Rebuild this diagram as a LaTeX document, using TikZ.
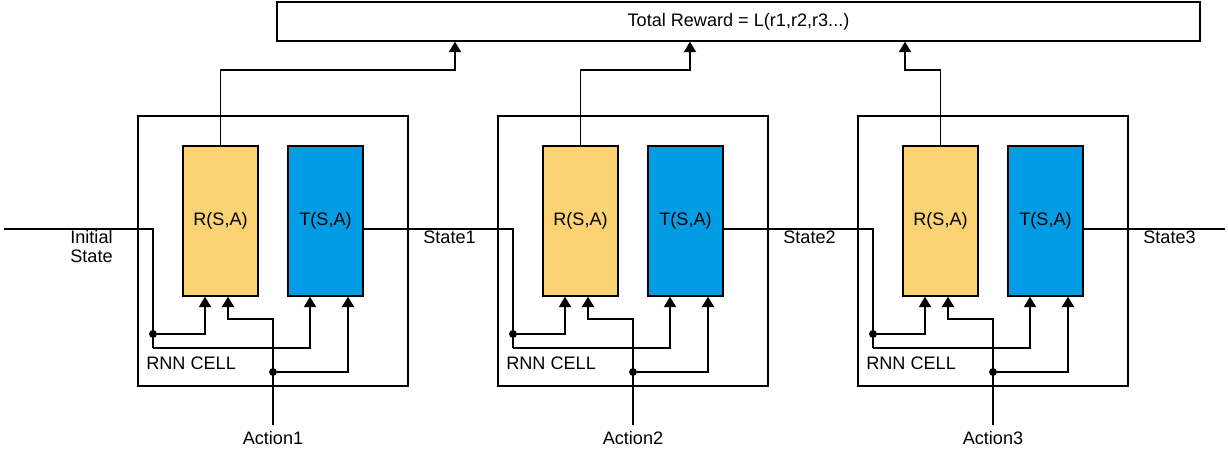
\documentclass[tikz,border=0pt]{standalone}
\usepackage{fontspec}
\setmainfont{Liberation Sans}
\usetikzlibrary{arrows.meta,calc}
\definecolor{rcol}{HTML}{FCD374}
\definecolor{tcol}{HTML}{019CE4}
\begin{document}
\begin{tikzpicture}[x=0.02cm,y=-0.02cm,
    font=\fontsize{10.3}{12}\selectfont,
    wire/.style={line width=0.8pt},
    arr/.style={wire,-{Triangle[width=7pt,length=6pt]}},
    cell/.style={draw,line width=0.8pt,minimum width=5.4cm,minimum height=5.4cm,inner sep=0pt},
    func/.style={draw,line width=0.8pt,minimum width=1.5cm,minimum height=3cm,inner sep=0pt},
    dot/.style={circle,fill,inner sep=0pt,minimum size=4.5pt}]
  \useasboundingbox (0,0) rectangle (1228,450);
  \node[draw,line width=0.8pt,minimum width=18.46cm,minimum height=0.78cm] (reward) at (738.5,21.5) {Total Reward = L(r1,r2,r3...)};
  \coordinate (prev0) at (4,229);
  \node[align=left,anchor=north west,inner sep=0pt] (initlab) at (70,230) {Initial\\[-1pt]State};
  \foreach \i/\o/\j in {1/0/0,2/360/1,3/720/2}{
    \node[cell] (C\i) at (273+\o,251) {};
    \node[func,fill=rcol] (R\i) at (220.5+\o,221) {R(S,A)};
    \node[func,fill=tcol] (T\i) at (325.5+\o,221) {T(S,A)};
    \node[anchor=west,inner sep=0pt] (rnn\i) at (146+\o,363) {RNN CELL};
    \node[anchor=north,inner sep=0pt] (a\i) at (273+\o,431) {Action\i};
    \node[anchor=west,inner sep=0pt] (s\i) at (423+\o,237) {State\i};
    \coordinate (in\i) at (153+\o,229);
    \node[dot] (d\i) at (153+\o,334) {};
    \node[dot] (e\i) at (273+\o,372) {};
    \coordinate (act\i) at (273+\o,425);
    \coordinate (prev\i) at ($(T\i.east)+(0,8)$);
    \draw[wire] (prev\j) -- (in\i) -- (153+\o,348) coordinate (m\i);
    \draw[arr] (m\i) -| ($(T\i.south)+(-15.5,0)$);
    \draw[arr] (d\i) -| ($(R\i.south)+(-15.5,0)$);
    \draw[arr] (act\i) -- (273+\o,319) -| ($(R\i.south)+(7.5,0)$);
    \draw[arr] (e\i) -| ($(T\i.south)+(22.5,0)$);
  }
  \draw[wire] (prev3) -- (1225,229);
  \coordinate (r1) at (455,70);
  \coordinate (r2) at (690,70);
  \coordinate (r3) at (905,70);
  \foreach \i in {1,2,3}{
    \draw[arr] (R\i.north) |- (r\i) -- (r\i |- reward.south);
  }
\end{tikzpicture}
\end{document}
